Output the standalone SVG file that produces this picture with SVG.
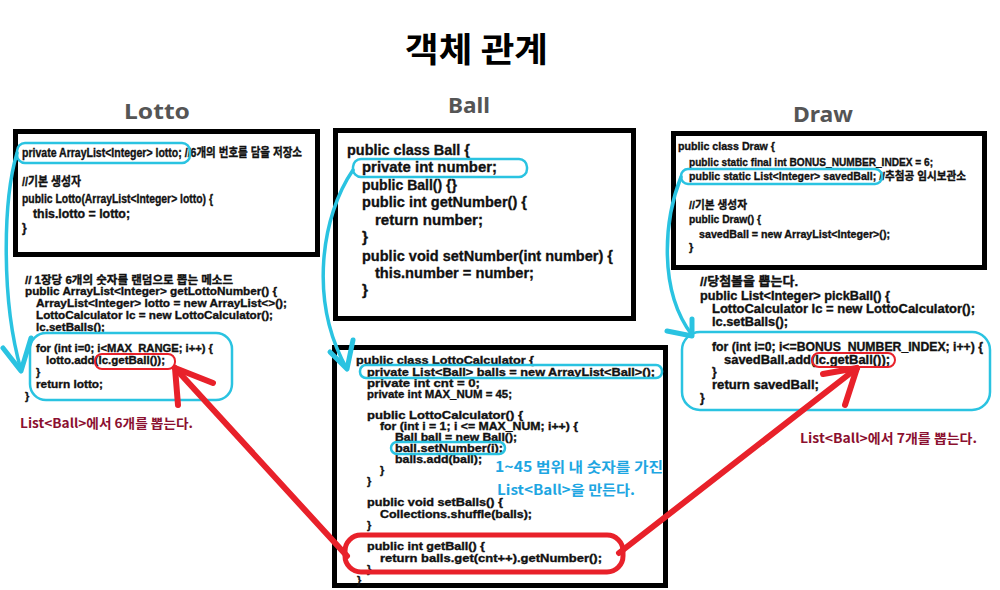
<svg xmlns="http://www.w3.org/2000/svg" width="1000" height="590" viewBox="0 0 1000 590">
<style>
.t{font-family:"Noto Sans CJK KR","Noto Sans",sans-serif;font-weight:bold}
.h{font-family:"Noto Sans","Noto Sans CJK KR",sans-serif;font-weight:bold;fill:#555;font-size:22px}
.c{font-family:"Liberation Sans","Noto Sans CJK KR",sans-serif;font-weight:bold;fill:#111;stroke:#111;stroke-width:0.35}
.s12{font-size:12px}.s11{font-size:11px}.s15{font-size:15.5px}
.box{fill:#fff;stroke:#000;stroke-width:5}
.cy{fill:none;stroke:#2ac3e1;stroke-width:2.5}
.cyl{fill:none;stroke:#2ac3e1;stroke-width:3.5;stroke-linecap:round;stroke-linejoin:round}
.cyh{fill:none;stroke:#2ac3e1;stroke-width:5;stroke-linecap:round;stroke-linejoin:round}
.rd{fill:none;stroke:#e8212a;stroke-width:2}
.rdl{fill:none;stroke:#e8212a;stroke-width:6;stroke-linecap:round;stroke-linejoin:round}
.lbl{font-family:"Noto Sans CJK KR",sans-serif;font-weight:bold;font-size:13px;fill:#8b1030}
.blu{font-family:"Noto Sans CJK KR",sans-serif;font-weight:bold;font-size:14px;fill:#1ea6e2}
</style>
<rect width="1000" height="590" fill="#fff"/>
<text class="t" x="405" y="62" font-size="34" textLength="143" lengthAdjust="spacingAndGlyphs">객체 관계</text>
<text class="h" x="124" y="119" textLength="66" lengthAdjust="spacingAndGlyphs">Lotto</text>
<text class="h" x="448" y="113" textLength="42" lengthAdjust="spacingAndGlyphs">Ball</text>
<text class="h" x="793" y="122" textLength="60" lengthAdjust="spacingAndGlyphs">Draw</text>

<g id="lotto">
<rect class="box" x="15.5" y="131.5" width="302" height="123"/>
<g class="c s12">
<text x="22" y="157" textLength="280" lengthAdjust="spacingAndGlyphs">private ArrayList&lt;Integer&gt; lotto; //6개의 번호를 담을 저장소</text>
<text x="22" y="186" textLength="59" lengthAdjust="spacingAndGlyphs">//기본 생성자</text>
<text x="22" y="203" textLength="191" lengthAdjust="spacingAndGlyphs">public Lotto(ArrayList&lt;Integer&gt; lotto) {</text>
<text x="33" y="218" textLength="97" lengthAdjust="spacingAndGlyphs">this.lotto = lotto;</text>
<text x="22" y="232">}</text>
</g>
<rect class="cy" x="17" y="143" width="173" height="20" rx="8"/>
<g class="c s11">
<text x="25" y="284" textLength="208" lengthAdjust="spacingAndGlyphs">// 1장당 6개의 숫자를 랜덤으로 뽑는 메소드</text>
<text x="25" y="295" textLength="252" lengthAdjust="spacingAndGlyphs">public ArrayList&lt;Integer&gt; getLottoNumber() {</text>
<text x="36" y="307" textLength="251" lengthAdjust="spacingAndGlyphs">ArrayList&lt;Integer&gt; lotto = new ArrayList&lt;&gt;();</text>
<text x="36" y="319" textLength="237" lengthAdjust="spacingAndGlyphs">LottoCalculator lc = new LottoCalculator();</text>
<text x="36" y="331" textLength="69" lengthAdjust="spacingAndGlyphs">lc.setBalls();</text>
<text x="36" y="352" textLength="177" lengthAdjust="spacingAndGlyphs">for (int i=0; i&lt;MAX_RANGE; i++) {</text>
<text x="46" y="364" textLength="119" lengthAdjust="spacingAndGlyphs">lotto.add(lc.getBall());</text>
<text x="36" y="376">}</text>
<text x="36" y="388" textLength="67" lengthAdjust="spacingAndGlyphs">return lotto;</text>
<text x="25" y="400">}</text>
</g>
<rect class="cy" x="30" y="333" width="202" height="67" rx="16"/>
<rect class="rd" x="95" y="354" width="80" height="15" rx="7"/>
<text class="lbl" x="20" y="428" textLength="173" lengthAdjust="spacingAndGlyphs">List&lt;Ball&gt;에서 6개를 뽑는다.</text>
</g>

<g id="ball">
<rect class="box" x="335.5" y="130.5" width="298" height="188"/>
<g class="c s15">
<text x="347" y="155" textLength="123" lengthAdjust="spacingAndGlyphs">public class Ball {</text>
<text x="362" y="172" textLength="135" lengthAdjust="spacingAndGlyphs">private int number;</text>
<text x="362" y="190" textLength="95" lengthAdjust="spacingAndGlyphs">public Ball() {}</text>
<text x="362" y="207" textLength="165" lengthAdjust="spacingAndGlyphs">public int getNumber() {</text>
<text x="375" y="225" textLength="108" lengthAdjust="spacingAndGlyphs">return number;</text>
<text x="362" y="242">}</text>
<text x="362" y="261" textLength="251" lengthAdjust="spacingAndGlyphs">public void setNumber(int number) {</text>
<text x="375" y="278" textLength="159" lengthAdjust="spacingAndGlyphs">this.number = number;</text>
<text x="362" y="295">}</text>
</g>
<rect class="cy" x="353" y="159" width="174" height="18" rx="8"/>
</g>

<g id="draw">
<rect class="box" x="673.5" y="133.5" width="311" height="134"/>
<g class="c s11">
<text x="678" y="150" textLength="97" lengthAdjust="spacingAndGlyphs">public class Draw {</text>
<text x="689" y="166" textLength="244" lengthAdjust="spacingAndGlyphs">public static final int BONUS_NUMBER_INDEX = 6;</text>
<text x="689" y="180" textLength="277" lengthAdjust="spacingAndGlyphs">public static List&lt;Integer&gt; savedBall; //추첨공 임시보관소</text>
<text x="689" y="209" textLength="58" lengthAdjust="spacingAndGlyphs">//기본 생성자</text>
<text x="689" y="223" textLength="72" lengthAdjust="spacingAndGlyphs">public Draw() {</text>
<text x="699" y="238" textLength="191" lengthAdjust="spacingAndGlyphs">savedBall = new ArrayList&lt;Integer&gt;();</text>
<text x="689" y="251">}</text>
</g>
<rect class="cy" x="681" y="169" width="201" height="15" rx="7"/>
<g class="c s12">
<text x="700" y="286" textLength="98" lengthAdjust="spacingAndGlyphs">//당첨볼을 뽑는다.</text>
<text x="700" y="300" textLength="190" lengthAdjust="spacingAndGlyphs">public List&lt;Integer&gt; pickBall() {</text>
<text x="712" y="313" textLength="263" lengthAdjust="spacingAndGlyphs">LottoCalculator lc = new LottoCalculator();</text>
<text x="712" y="326" textLength="76" lengthAdjust="spacingAndGlyphs">lc.setBalls();</text>
<text x="712" y="351" textLength="271" lengthAdjust="spacingAndGlyphs">for (int i=0; i&lt;=BONUS_NUMBER_INDEX; i++) {</text>
<text x="724" y="364" textLength="166" lengthAdjust="spacingAndGlyphs">savedBall.add(lc.getBall());</text>
<text x="712" y="376">}</text>
<text x="712" y="389" textLength="107" lengthAdjust="spacingAndGlyphs">return savedBall;</text>
<text x="700" y="402">}</text>
</g>
<rect class="cy" x="682" y="332" width="308" height="78" rx="18"/>
<rect class="rd" x="812" y="353" width="83" height="14" rx="7"/>
<text class="lbl" x="800" y="443" textLength="177" lengthAdjust="spacingAndGlyphs">List&lt;Ball&gt;에서 7개를 뽑는다.</text>
</g>

<g id="lottoCalculator">
<rect class="box" x="334.5" y="347.5" width="331" height="238"/>
<g class="c s11">
<text x="356" y="364" textLength="178" lengthAdjust="spacingAndGlyphs">public class LottoCalculator {</text>
<text x="367" y="376" textLength="288" lengthAdjust="spacingAndGlyphs">private List&lt;Ball&gt; balls = new ArrayList&lt;Ball&gt;();</text>
<text x="367" y="387" textLength="113" lengthAdjust="spacingAndGlyphs">private int cnt = 0;</text>
<text x="367" y="398" textLength="145" lengthAdjust="spacingAndGlyphs">private int MAX_NUM = 45;</text>
<text x="367" y="419" textLength="156" lengthAdjust="spacingAndGlyphs">public LottoCalculator() {</text>
<text x="380" y="430" textLength="198" lengthAdjust="spacingAndGlyphs">for (int i = 1; i &lt;= MAX_NUM; i++) {</text>
<text x="395" y="441" textLength="122" lengthAdjust="spacingAndGlyphs">Ball ball = new Ball();</text>
<text x="395" y="452" textLength="108" lengthAdjust="spacingAndGlyphs">ball.setNumber(i);</text>
<text x="395" y="463" textLength="87" lengthAdjust="spacingAndGlyphs">balls.add(ball);</text>
<text x="380" y="474">}</text>
<text x="367" y="485">}</text>
<text x="367" y="506" textLength="136" lengthAdjust="spacingAndGlyphs">public void setBalls() {</text>
<text x="380" y="518" textLength="152" lengthAdjust="spacingAndGlyphs">Collections.shuffle(balls);</text>
<text x="367" y="529">}</text>
<text x="367" y="550" textLength="118" lengthAdjust="spacingAndGlyphs">public int getBall() {</text>
<text x="380" y="562" textLength="222" lengthAdjust="spacingAndGlyphs">return balls.get(cnt++).getNumber();</text>
<text x="367" y="573">}</text>
<text x="357" y="584">}</text>
</g>
<rect class="cy" x="360" y="365" width="302" height="13" rx="6"/>
<rect class="cy" x="391" y="442" width="114" height="12" rx="6"/>
<rect fill="none" stroke="#e8212a" stroke-width="5" x="345" y="535" width="278" height="37" rx="16"/>
<text class="blu" x="495" y="472" textLength="168" lengthAdjust="spacingAndGlyphs">1~45 범위 내 숫자를 가진</text>
<text class="blu" x="497" y="495" textLength="138" lengthAdjust="spacingAndGlyphs">List&lt;Ball&gt;을 만든다.</text>
</g>

<g id="connectors">
<path class="cyl" d="M17,153 C3,200 1,300 21,370"/>
<path class="cyh" d="M3,348 L21,371 L31,338"/>
<path class="cyl" d="M353,170 C322,215 308,300 347,369"/>
<path class="cyh" d="M330,352 L347,369 L353,340"/>
<path class="cyl" d="M681,177 C664,220 658,290 692,335"/>
<path class="cyh" d="M667,331 L692,336 L692,319"/>
<path class="rdl" d="M347,556 L175,368"/>
<path class="rdl" d="M213,383 L175,368 L178,405"/>
<path class="rdl" d="M619,553 L857,368"/>
<path class="rdl" d="M823,374 L857,368 L845,405"/>
</g>
</svg>
